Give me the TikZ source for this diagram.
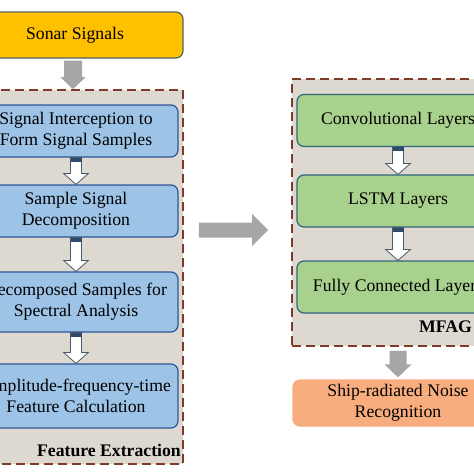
\documentclass[tikz,border=0pt]{standalone}
\usepackage{fontspec}
\setmainfont{Liberation Serif}
\usepackage{xcolor}
\usetikzlibrary{calc}

\definecolor{sonarfill}{HTML}{FFC000}
\definecolor{sonardraw}{HTML}{4E6B5B}
\definecolor{bluefill}{HTML}{9DC3E6}
\definecolor{bluedraw}{HTML}{2F5597}
\definecolor{greenfill}{HTML}{A9D18E}
\definecolor{greendraw}{HTML}{31657A}
\definecolor{framefill}{HTML}{DDD8D0}
\definecolor{framedraw}{HTML}{7F3A2A}
\definecolor{resultfill}{HTML}{F8AD7E}
\definecolor{arrowgray}{HTML}{A6A6A6}
\definecolor{arrowline}{HTML}{4A5A6A}
\definecolor{capcol}{HTML}{2F4A6A}

\begin{document}
\begin{tikzpicture}[x=1pt,y=1pt,
  box/.style={rectangle,rounded corners=7pt,draw,line width=1.2pt,inner sep=0pt,align=center,
    font=\fontsize{17.7}{21}\selectfont},
  stepbox/.style={box,fill=bluefill,draw=bluedraw,minimum width=204},
  layer/.style={box,fill=greenfill,draw=greendraw,minimum width=202,minimum height=52},
  dashframe/.style={rectangle,draw=framedraw,fill=framefill,dash pattern=on 9pt off 5pt,line width=1.6pt},
  frametitle/.style={font=\bfseries\fontsize{17.7}{21}\selectfont,inner sep=0pt},
  hollow/.style={draw=arrowline,fill=white,line width=0.8pt},
  bigarrow/.style={fill=arrowgray}]
\useasboundingbox (0,0) rectangle (474,-474);
\fill[white] (0,0) rectangle (474,-474);
\clip (0,0) rectangle (474,-474);

% Input
\node[box,fill=sonarfill,draw=sonardraw,minimum width=216,minimum height=46] (sonar) at (75,-35) {Sonar Signals};

% Feature extraction stage
\node[dashframe,minimum width=223,minimum height=374] (fe) at (71.5,-277) {};
\node[stepbox,minimum height=52] (s1) at (76,-131) {Signal Interception to\\Form Signal Samples};
\node[stepbox,minimum height=52] (s2) at (76,-211) {Sample Signal\\Decomposition};
\node[stepbox,minimum height=60] (s3) at (76,-302) {Decomposed Samples for\\Spectral Analysis};
\node[stepbox,minimum height=64] (s4) at (76,-396) {Amplitude-frequency-time\\Feature Calculation};
\node[frametitle,anchor=east] (fetitle) at (181,-450) {Feature Extraction};

% Network stage
\node[dashframe,minimum width=228,minimum height=267] (mf) at (406,-212.5) {};
\node[layer] (c1) at (398,-120.5) {Convolutional Layers};
\node[layer] (c2) at (398,-201) {LSTM Layers};
\node[layer] (c3) at (398,-287) {Fully Connected Layers};
\node[frametitle,anchor=west] (mftitle) at (419,-327) {MFAG};

% Output
\node[box,fill=resultfill,draw=resultfill,minimum width=210,minimum height=46] (out) at (398,-403) {Ship-radiated Noise\\Recognition};

% Hollow arrows inside the frames
\foreach \a/\b in {s1/s2,s2/s3,s3/s4,c1/c2,c2/c3}{
  \draw[hollow] let \p1=(\a.south), \p2=(\b.north) in
    (\x1-5.5pt,\y1) -- (\x1+5.5pt,\y1) -- (\x1+5.5pt,\y2+11pt) -- (\x1+12.5pt,\y2+11pt)
    -- (\x1,\y2) -- (\x1-12.5pt,\y2+11pt) -- (\x1-5.5pt,\y2+11pt) -- cycle;
  \fill[capcol] let \p1=(\a.south) in (\x1-5.5pt,\y1) rectangle (\x1+5.5pt,\y1-4pt);
}

% Gray arrows between stages
\fill[bigarrow] let \p1=(sonar.south), \p2=(fe.north) in
  (\x1-11pt,\y1-2pt) -- (\x1+7pt,\y1-2pt) -- (\x1+7pt,\y2+12pt) -- (\x1+10.5pt,\y2+12pt)
  -- (\x1-2pt,\y2) -- (\x1-14.5pt,\y2+12pt) -- (\x1-11pt,\y2+12pt) -- cycle;
\fill[bigarrow] let \p1=(fe.east), \p2=(mf.west) in
  (\x1+15pt,-222.5) -- (\x2-39pt,-222.5) -- (\x2-39pt,-214) -- (\x2-23pt,-230)
  -- (\x2-39pt,-246) -- (\x2-39pt,-237.5) -- (\x1+15pt,-237.5) -- cycle;
\fill[bigarrow] let \p1=(mf.south), \p2=(out.north) in
  (\x2-8.5pt,\y1-4pt) -- (\x2+8.5pt,\y1-4pt) -- (\x2+8.5pt,\y2+15pt) -- (\x2+13.5pt,\y2+15pt)
  -- (\x2,\y2+2pt) -- (\x2-13.5pt,\y2+15pt) -- (\x2-8.5pt,\y2+15pt) -- cycle;
\end{tikzpicture}
\end{document}
